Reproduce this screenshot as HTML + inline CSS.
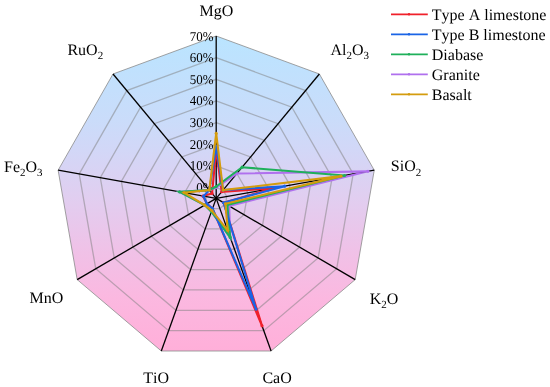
<!DOCTYPE html>
<html><head><meta charset="utf-8"><style>
html,body{margin:0;padding:0;background:#fff;}
body{width:550px;height:387px;overflow:hidden;position:relative;}
svg{position:absolute;left:0;top:0;}
text{font-family:"Liberation Serif","Times New Roman",serif;fill:#000;font-kerning:none;text-rendering:geometricPrecision;}
</style></head><body>
<svg width="550" height="387" viewBox="0 0 550 387">
<defs><linearGradient id="bg" gradientUnits="userSpaceOnUse" x1="0" y1="36" x2="0" y2="351">
<stop offset="0" stop-color="rgb(186,229,255)"/><stop offset="0.076" stop-color="rgb(190,226,254)"/><stop offset="0.267" stop-color="rgb(202,220,250)"/><stop offset="0.362" stop-color="rgb(210,215,247)"/><stop offset="0.514" stop-color="rgb(225,206,240)"/><stop offset="0.686" stop-color="rgb(240,193,231)"/><stop offset="0.832" stop-color="rgb(251,184,224)"/><stop offset="0.978" stop-color="rgb(255,176,218)"/><stop offset="1" stop-color="rgb(255,175,217)"/>
</linearGradient></defs>
<polygon points="216.20,36.00 319.37,73.99 374.26,170.20 355.20,279.60 271.09,351.01 161.31,351.01 77.20,279.60 58.14,170.20 113.03,73.99" fill="url(#bg)" stroke="#8a8a8a" stroke-width="0.8"/>
<polygon points="216.20,187.57 223.08,190.11 226.74,196.52 225.47,203.81 219.86,208.57 212.54,208.57 206.93,203.81 205.66,196.52 209.32,190.11" fill="none" stroke="#808080" stroke-opacity="0.5" stroke-width="1.3"/>
<polygon points="216.20,165.92 236.83,173.52 247.81,192.76 244.00,214.64 227.18,228.92 205.22,228.92 188.40,214.64 184.59,192.76 195.57,173.52" fill="none" stroke="#808080" stroke-opacity="0.5" stroke-width="1.3"/>
<polygon points="216.20,144.27 250.59,156.93 268.89,189.00 262.53,225.47 234.50,249.27 197.90,249.27 169.87,225.47 163.51,189.00 181.81,156.93" fill="none" stroke="#808080" stroke-opacity="0.5" stroke-width="1.3"/>
<polygon points="216.20,122.61 264.34,140.34 289.96,185.24 281.07,236.29 241.82,269.62 190.58,269.62 151.33,236.29 142.44,185.24 168.06,140.34" fill="none" stroke="#808080" stroke-opacity="0.5" stroke-width="1.3"/>
<polygon points="216.20,100.96 278.10,123.76 311.04,181.48 299.60,247.12 249.14,289.96 183.26,289.96 132.80,247.12 121.36,181.48 154.30,123.76" fill="none" stroke="#808080" stroke-opacity="0.5" stroke-width="1.3"/>
<polygon points="216.20,79.31 291.86,107.17 332.11,177.72 318.13,257.95 256.46,310.31 175.94,310.31 114.27,257.95 100.29,177.72 140.54,107.17" fill="none" stroke="#808080" stroke-opacity="0.5" stroke-width="1.3"/>
<polygon points="216.20,57.65 305.61,90.58 353.19,173.96 336.66,268.77 263.78,330.66 168.62,330.66 95.74,268.77 79.21,173.96 126.79,90.58" fill="none" stroke="#808080" stroke-opacity="0.5" stroke-width="1.3"/>
<line x1="216.20" y1="198.40" x2="216.20" y2="36.00" stroke="#000" stroke-width="1.3"/>
<line x1="216.20" y1="198.40" x2="319.37" y2="73.99" stroke="#000" stroke-width="1.3"/>
<line x1="216.20" y1="198.40" x2="374.26" y2="170.20" stroke="#000" stroke-width="1.3"/>
<line x1="216.20" y1="198.40" x2="355.20" y2="279.60" stroke="#000" stroke-width="1.3"/>
<line x1="216.20" y1="198.40" x2="271.09" y2="351.01" stroke="#000" stroke-width="1.3"/>
<line x1="216.20" y1="198.40" x2="161.31" y2="351.01" stroke="#000" stroke-width="1.3"/>
<line x1="216.20" y1="198.40" x2="77.20" y2="279.60" stroke="#000" stroke-width="1.3"/>
<line x1="216.20" y1="198.40" x2="58.14" y2="170.20" stroke="#000" stroke-width="1.3"/>
<line x1="216.20" y1="198.40" x2="113.03" y2="73.99" stroke="#000" stroke-width="1.3"/>
<text transform="translate(213.6,192.07) scale(0.96,1)" font-size="13.5" text-anchor="end">0%</text>
<text transform="translate(213.6,170.42) scale(0.96,1)" font-size="13.5" text-anchor="end">10%</text>
<text transform="translate(213.6,148.77) scale(0.96,1)" font-size="13.5" text-anchor="end">20%</text>
<text transform="translate(213.6,127.11) scale(0.96,1)" font-size="13.5" text-anchor="end">30%</text>
<text transform="translate(213.6,105.46) scale(0.96,1)" font-size="13.5" text-anchor="end">40%</text>
<text transform="translate(213.6,83.81) scale(0.96,1)" font-size="13.5" text-anchor="end">50%</text>
<text transform="translate(213.6,62.15) scale(0.96,1)" font-size="13.5" text-anchor="end">60%</text>
<text transform="translate(213.6,40.50) scale(0.96,1)" font-size="13.5" text-anchor="end">70%</text>
<polygon points="216.20,149.46 221.70,191.77 273.52,188.17 223.61,202.73 262.02,325.78 212.54,208.57 206.93,203.81 202.92,196.03 212.07,193.42" fill="none" stroke="#f0202a" stroke-width="2.1" stroke-linejoin="miter"/>
<circle cx="216.20" cy="149.46" r="1.6" fill="#f0202a"/>
<circle cx="221.70" cy="191.77" r="1.6" fill="#f0202a"/>
<circle cx="273.52" cy="188.17" r="1.6" fill="#f0202a"/>
<circle cx="223.61" cy="202.73" r="1.6" fill="#f0202a"/>
<circle cx="262.02" cy="325.78" r="1.6" fill="#f0202a"/>
<circle cx="212.54" cy="208.57" r="1.6" fill="#f0202a"/>
<circle cx="206.93" cy="203.81" r="1.6" fill="#f0202a"/>
<circle cx="202.92" cy="196.03" r="1.6" fill="#f0202a"/>
<circle cx="212.07" cy="193.42" r="1.6" fill="#f0202a"/>
<polygon points="216.20,187.57 236.83,173.52 367.94,171.33 229.17,205.98 230.25,237.47 211.44,211.63 204.71,205.11 179.53,191.86 209.32,190.11" fill="none" stroke="#b070ee" stroke-width="2.1" stroke-linejoin="miter"/>
<circle cx="216.20" cy="187.57" r="1.6" fill="#b070ee"/>
<circle cx="236.83" cy="173.52" r="1.6" fill="#b070ee"/>
<circle cx="367.94" cy="171.33" r="1.6" fill="#b070ee"/>
<circle cx="229.17" cy="205.98" r="1.6" fill="#b070ee"/>
<circle cx="230.25" cy="237.47" r="1.6" fill="#b070ee"/>
<circle cx="211.44" cy="211.63" r="1.6" fill="#b070ee"/>
<circle cx="204.71" cy="205.11" r="1.6" fill="#b070ee"/>
<circle cx="179.53" cy="191.86" r="1.6" fill="#b070ee"/>
<circle cx="209.32" cy="190.11" r="1.6" fill="#b070ee"/>
<polygon points="216.20,186.49 242.06,167.22 344.55,175.50 227.32,204.90 230.25,237.47 211.44,211.63 204.71,205.11 179.53,191.86 209.32,190.11" fill="none" stroke="#1fb05a" stroke-width="2.1" stroke-linejoin="miter"/>
<circle cx="216.20" cy="186.49" r="1.6" fill="#1fb05a"/>
<circle cx="242.06" cy="167.22" r="1.6" fill="#1fb05a"/>
<circle cx="344.55" cy="175.50" r="1.6" fill="#1fb05a"/>
<circle cx="227.32" cy="204.90" r="1.6" fill="#1fb05a"/>
<circle cx="230.25" cy="237.47" r="1.6" fill="#1fb05a"/>
<circle cx="211.44" cy="211.63" r="1.6" fill="#1fb05a"/>
<circle cx="204.71" cy="205.11" r="1.6" fill="#1fb05a"/>
<circle cx="179.53" cy="191.86" r="1.6" fill="#1fb05a"/>
<circle cx="209.32" cy="190.11" r="1.6" fill="#1fb05a"/>
<polygon points="216.20,146.43 223.08,190.11 284.69,186.18 223.61,202.73 256.02,309.09 212.54,208.57 206.93,203.81 203.56,196.14 209.32,190.11" fill="none" stroke="#1a64e6" stroke-width="2.1" stroke-linejoin="miter"/>
<circle cx="216.20" cy="146.43" r="1.6" fill="#1a64e6"/>
<circle cx="223.08" cy="190.11" r="1.6" fill="#1a64e6"/>
<circle cx="284.69" cy="186.18" r="1.6" fill="#1a64e6"/>
<circle cx="223.61" cy="202.73" r="1.6" fill="#1a64e6"/>
<circle cx="256.02" cy="309.09" r="1.6" fill="#1a64e6"/>
<circle cx="212.54" cy="208.57" r="1.6" fill="#1a64e6"/>
<circle cx="206.93" cy="203.81" r="1.6" fill="#1a64e6"/>
<circle cx="203.56" cy="196.14" r="1.6" fill="#1a64e6"/>
<circle cx="209.32" cy="190.11" r="1.6" fill="#1a64e6"/>
<polygon points="216.20,133.44 223.08,190.11 340.96,176.14 225.47,203.81 227.69,230.35 211.81,210.61 204.71,205.11 184.17,192.68 209.32,190.11" fill="none" stroke="#d49c0e" stroke-width="2.1" stroke-linejoin="miter"/>
<circle cx="216.20" cy="133.44" r="1.6" fill="#d49c0e"/>
<circle cx="223.08" cy="190.11" r="1.6" fill="#d49c0e"/>
<circle cx="340.96" cy="176.14" r="1.6" fill="#d49c0e"/>
<circle cx="225.47" cy="203.81" r="1.6" fill="#d49c0e"/>
<circle cx="227.69" cy="230.35" r="1.6" fill="#d49c0e"/>
<circle cx="211.81" cy="210.61" r="1.6" fill="#d49c0e"/>
<circle cx="204.71" cy="205.11" r="1.6" fill="#d49c0e"/>
<circle cx="184.17" cy="192.68" r="1.6" fill="#d49c0e"/>
<circle cx="209.32" cy="190.11" r="1.6" fill="#d49c0e"/>
<text x="199.5" y="16.2" font-size="16">MgO</text>
<text x="330.5" y="55.0" font-size="16">Al<tspan font-size="11" dy="4.2">2</tspan><tspan dy="-4.2">O</tspan><tspan font-size="11" dy="4.2">3</tspan></text>
<text x="390.8" y="171.4" font-size="16">SiO<tspan font-size="11" dy="4.2">2</tspan></text>
<text x="369.7" y="303.6" font-size="16">K<tspan font-size="11" dy="4.2">2</tspan><tspan dy="-4.2">O</tspan></text>
<text x="262.4" y="382.5" font-size="16">CaO</text>
<text x="143.2" y="382.5" font-size="16">TiO</text>
<text x="29.5" y="303.3" font-size="16">MnO</text>
<text x="4.0" y="171.6" font-size="16">Fe<tspan font-size="11" dy="4.2">2</tspan><tspan dy="-4.2">O</tspan><tspan font-size="11" dy="4.2">3</tspan></text>
<text x="67.4" y="55.0" font-size="16">RuO<tspan font-size="11" dy="4.2">2</tspan></text>
<line x1="391" y1="14.30" x2="427.8" y2="14.30" stroke="#f0202a" stroke-width="1.8"/>
<circle cx="409" cy="14.30" r="1.2" fill="#f0202a"/>
<text x="431.8" y="19.90" font-size="16">Type A limestone</text>
<line x1="391" y1="34.30" x2="427.8" y2="34.30" stroke="#1a64e6" stroke-width="1.8"/>
<circle cx="409" cy="34.30" r="1.2" fill="#1a64e6"/>
<text x="431.8" y="39.90" font-size="16">Type B limestone</text>
<line x1="391" y1="54.30" x2="427.8" y2="54.30" stroke="#1fb05a" stroke-width="1.8"/>
<circle cx="409" cy="54.30" r="1.2" fill="#1fb05a"/>
<text x="431.8" y="59.90" font-size="16">Diabase</text>
<line x1="391" y1="74.30" x2="427.8" y2="74.30" stroke="#b070ee" stroke-width="1.8"/>
<circle cx="409" cy="74.30" r="1.2" fill="#b070ee"/>
<text x="431.8" y="79.90" font-size="16">Granite</text>
<line x1="391" y1="94.30" x2="427.8" y2="94.30" stroke="#d49c0e" stroke-width="1.8"/>
<circle cx="409" cy="94.30" r="1.2" fill="#d49c0e"/>
<text x="431.8" y="99.90" font-size="16">Basalt</text>
</svg></body></html>
